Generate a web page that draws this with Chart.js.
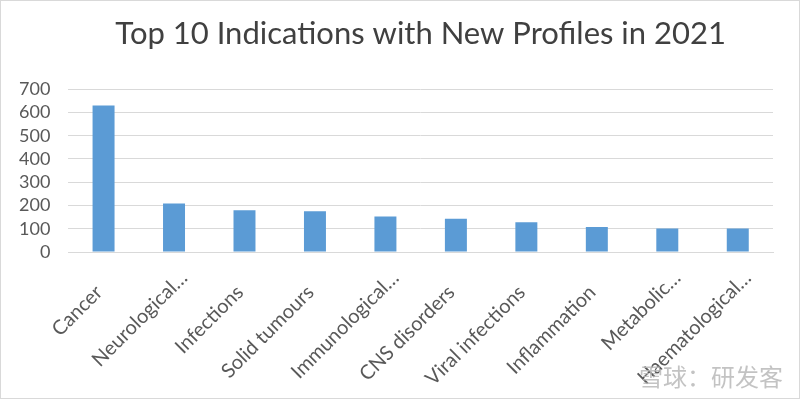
<!DOCTYPE html>
<html>
<head>
<meta charset="utf-8">
<script src="https://cdn.jsdelivr.net/npm/chart.js@4/dist/chart.umd.min.js"></script>
<style>
  html, body { margin: 0; padding: 0; background: #fff; }
  #wrap { position: relative; width: 798px; height: 397px; border: 1px solid #d9d9d9; }
</style>
</head>
<body>
<div id="wrap"><canvas id="myChart"></canvas></div>
<script>
const categories = ['Cancer', 'Neurological…', 'Infections', 'Solid tumours', 'Immunological…',
    'CNS disorders', 'Viral infections', 'Inflammation', 'Metabolic…', 'Haematological…'];
const profiles = [630, 209, 179, 175, 153, 143, 128, 107, 101, 101];
const yTicks = [0, 100, 200, 300, 400, 500, 600, 700];

const watermark = {
    id: 'watermark',
    afterDraw(chart) {
        const ctx = chart.ctx;
        ctx.save();
        ctx.font = '24px "Noto Sans CJK SC"';
        ctx.fillStyle = 'rgba(185,185,185,0.85)';
        ctx.textAlign = 'right';
        ctx.textBaseline = 'middle';
        ctx.fillText('雪球：研发客', 782, 376);
        ctx.restore();
    }
};

const ctx = document.getElementById('myChart').getContext('2d');
const myChart = new Chart(ctx, {
    type: 'bar',
    data: {
        labels: categories,
        datasets: [{
            label: 'New Profiles',
            data: profiles,
            backgroundColor: '#5b9bd5',
            barPercentage: 0.39,
            categoryPercentage: 0.8
        }]
    },
    options: {
        responsive: true,
        maintainAspectRatio: false,
        animation: false,
        layout: { padding: { left: 0, right: 26, top: 10, bottom: 0 } },
        plugins: {
            legend: { display: false },
            tooltip: { enabled: false },
            title: {
                display: true,
                fullSize: false,
                text: 'Top 10 Indications with New Profiles in 2021',
                color: '#404040',
                font: { family: 'Lato', size: 31, weight: 'normal' },
                padding: { top: 4, bottom: 37 }
            }
        },
        scales: {
            x: {
                afterFit(axis) { axis.height = 146; },
                grid: { display: false },
                border: { color: '#d9d9d9' },
                ticks: {
                    color: '#595959',
                    font: { family: 'Lato', size: 20 },
                    maxRotation: 45,
                    minRotation: 45,
                    autoSkip: false,
                    padding: 6,
                    labelOffset: 10,
                    // full labels sit a little further down-left than the cut ones
                    callback(value) {
                        const s = this.getLabelForValue(value);
                        return s.endsWith('…') ? s : s + '    ';
                    }
                }
            },
            y: {
                min: 0,
                max: 700,
                afterBuildTicks(axis) { axis.ticks = yTicks.map(v => ({ value: v })); },
                grid: { color: '#d9d9d9', drawTicks: false },
                border: { display: false },
                ticks: {
                    color: '#595959',
                    font: { family: 'Lato', size: 18 },
                    autoSkip: false,
                    padding: 18
                }
            }
        }
    },
    plugins: [watermark]
});
</script>
</body>
</html>
